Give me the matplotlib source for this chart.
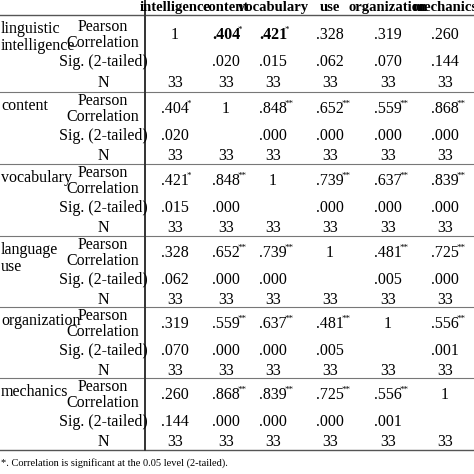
import matplotlib
matplotlib.use("Agg")
import matplotlib.pyplot as plt

variables = ["linguistic\nintelligence", "content", "vocabulary", "language\nuse", "organization", "mechanics"]
headers = ["intelligence", "content", "vocabulary", "use", "organization", "mechanics"]
pearson = [
    ["1", ".404", ".421", ".328", ".319", ".260"],
    [".404", "1", ".848", ".652", ".559", ".868"],
    [".421", ".848", "1", ".739", ".637", ".839"],
    [".328", ".652", ".739", "1", ".481", ".725"],
    [".319", ".559", ".637", ".481", "1", ".556"],
    [".260", ".868", ".839", ".725", ".556", "1"],
]
stars = [
    ["", "*", "*", "", "", ""],
    ["*", "", "**", "**", "**", "**"],
    ["*", "**", "", "**", "**", "**"],
    ["", "**", "**", "", "**", "**"],
    ["", "**", "**", "**", "", "**"],
    ["", "**", "**", "**", "**", ""],
]
sig = [
    ["", ".020", ".015", ".062", ".070", ".144"],
    [".020", "", ".000", ".000", ".000", ".000"],
    [".015", ".000", "", ".000", ".000", ".000"],
    [".062", ".000", ".000", "", ".005", ".000"],
    [".070", ".000", ".000", ".005", "", ".001"],
    [".144", ".000", ".000", ".000", ".001", ""],
]
n_vals = [[33] * 6 for _ in range(6)]
footnote = "*. Correlation is significant at the 0.05 level (2-tailed)."

fig = plt.figure(figsize=(4.74, 4.74), dpi=100)
ax = fig.add_axes([0, 0, 1, 1])
ax.set_xlim(0, 474); ax.set_ylim(474, 0); ax.axis("off")
fam = "Liberation Serif"; fs = 11.5
col_x = [175, 226, 273, 330, 388, 445]
tops = [15, 92, 164, 236, 307, 378]
bottom = 450

for x, h in zip(col_x, headers):
    ax.text(x, 7, h, ha="center", va="center", family=fam, fontsize=10.5, fontweight="bold")
ax.plot([0, 474], [15, 15], color="#555", lw=1)
for t in tops[1:]:
    ax.plot([0, 474], [t, t], color="#777", lw=0.8)
ax.plot([0, 474], [bottom, bottom], color="#555", lw=1)
ax.plot([145, 145], [0, bottom], color="#333", lw=1.4)

for g in range(6):
    t = tops[g]
    yp, ys, yn = (t + 20, t + 47, t + 68) if g == 0 else (t + 17, t + 44, t + 64)
    ax.text(1, t + 6, variables[g], ha="left", va="top", family=fam, fontsize=fs, linespacing=1.05)
    ax.text(103, yp, "Pearson\nCorrelation", ha="center", va="center", family=fam, fontsize=fs, linespacing=1.0)
    ax.text(103, ys, "Sig. (2-tailed)", ha="center", va="center", family=fam, fontsize=fs)
    ax.text(103, yn, "N", ha="center", va="center", family=fam, fontsize=fs)
    for c in range(6):
        x = col_x[c]
        bold = (g == 0 and c in (1, 2))
        ax.text(x, yp, pearson[g][c], ha="center", va="center", family=fam, fontsize=fs,
                fontweight="bold" if bold else "normal")
        if stars[g][c]:
            ax.text(x + 12, yp - 5, stars[g][c], ha="left", va="center", family=fam, fontsize=6.5)
        ax.text(x, ys, sig[g][c], ha="center", va="center", family=fam, fontsize=fs)
        ax.text(x, yn, str(n_vals[g][c]), ha="center", va="center", family=fam, fontsize=fs)

ax.text(1, 463, footnote, ha="left", va="center", family=fam, fontsize=7.5)
fig.savefig("out.png", dpi=100)
